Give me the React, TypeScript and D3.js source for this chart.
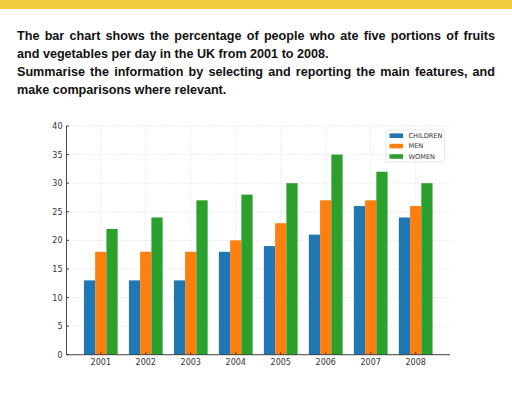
import { useRef, useEffect } from "react";
import * as d3 from "d3";

const years = ["2001", "2002", "2003", "2004", "2005", "2006", "2007", "2008"];
const children = [13, 13, 13, 18, 19, 21, 26, 24];
const men = [18, 18, 18, 20, 23, 27, 27, 26];
const women = [22, 24, 27, 28, 30, 35, 32, 30];
const seriesNames = ["CHILDREN", "MEN", "WOMEN"];
const seriesColors = ["#1f77b4", "#ff7f0e", "#2ca02c"];
const yTicks = [0, 5, 10, 15, 20, 25, 30, 35, 40];

const paragraphs = [
    "The bar chart shows the percentage of people who ate five portions of fruits and vegetables per day in the UK from 2001 to 2008.",
    "Summarise the information by selecting and reporting the main features, and make comparisons where relevant.",
];

const W = 512;
const H = 417;

export default function App() {
    const ref = useRef<SVGSVGElement>(null);

    useEffect(() => {
        const svg = d3.select(ref.current);
        svg.selectAll("*").remove();

        svg.append("rect").attr("width", W).attr("height", H).attr("fill", "#fff");
        svg.append("rect").attr("width", W).attr("height", 9).attr("fill", "#f2cb3c");

        // justified prompt text
        const textLeft = 17;
        const textRight = 495;
        const fontSize = 12.6;
        let lineY = 40;
        const tg = svg.append("g")
            .attr("font-family", "'Liberation Sans', Arial, sans-serif")
            .attr("font-weight", "bold")
            .attr("font-size", fontSize)
            .attr("fill", "#111");

        const measure = tg.append("text").attr("x", -1000).attr("y", -1000);
        const wordWidth = (w: string) => {
            measure.text(w);
            return (measure.node() as SVGTextElement).getComputedTextLength();
        };
        const spaceW = wordWidth("a b") - wordWidth("ab");

        paragraphs.forEach(p => {
            const words = p.split(" ");
            let lines: string[][] = [];
            let cur: string[] = [];
            let curW = 0;
            words.forEach(w => {
                const ww = wordWidth(w);
                const next = cur.length ? curW + spaceW + ww : ww;
                if (next > textRight - textLeft && cur.length) {
                    lines.push(cur);
                    cur = [w];
                    curW = ww;
                } else {
                    cur.push(w);
                    curW = next;
                }
            });
            if (cur.length) lines.push(cur);

            lines.forEach((line, li) => {
                const last = li === lines.length - 1;
                const widths = line.map(wordWidth);
                const total = d3.sum(widths);
                const gap = last || line.length < 2
                    ? spaceW
                    : (textRight - textLeft - total) / (line.length - 1);
                let x = textLeft;
                line.forEach((w, i) => {
                    tg.append("text").attr("x", x).attr("y", lineY).text(w);
                    x += widths[i] + gap;
                });
                lineY += 18;
            });
        });
        measure.remove();

        // chart
        const left = 66.5;
        const right = 450;
        const top = 126;
        const bottom = 354.7;

        const x = d3.scaleLinear().domain([-0.7625, years.length - 1 + 0.7625]).range([left, right]);
        const y = d3.scaleLinear().domain([0, 40]).range([bottom, top]);
        const barW = x(0.25) - x(0);

        const grid = svg.append("g")
            .attr("stroke", "#d9d9d9")
            .attr("stroke-width", 0.6)
            .attr("stroke-dasharray", "1.5,1.5");
        yTicks.forEach(t => {
            grid.append("line").attr("x1", left).attr("x2", right).attr("y1", y(t)).attr("y2", y(t));
        });
        years.forEach((_, i) => {
            grid.append("line").attr("x1", x(i)).attr("x2", x(i)).attr("y1", top).attr("y2", bottom);
        });

        const series = [children, men, women];
        series.forEach((vals, s) => {
            svg.append("g").selectAll("rect")
                .data(vals)
                .join("rect")
                .attr("x", (_, i) => x(i + (s - 1) * 0.25) - barW / 2)
                .attr("y", d => y(d))
                .attr("width", barW)
                .attr("height", d => y(0) - y(d))
                .attr("fill", seriesColors[s]);
        });

        const axes = svg.append("g").attr("stroke", "#333").attr("stroke-width", 0.9);
        axes.append("line").attr("x1", left).attr("x2", left).attr("y1", top).attr("y2", bottom);
        axes.append("line").attr("x1", left).attr("x2", right).attr("y1", bottom).attr("y2", bottom);
        yTicks.forEach(t => {
            axes.append("line").attr("x1", left).attr("x2", left + 2.5).attr("y1", y(t)).attr("y2", y(t));
        });
        years.forEach((_, i) => {
            axes.append("line").attr("x1", x(i)).attr("x2", x(i)).attr("y1", bottom).attr("y2", bottom - 2.5);
        });

        const labels = svg.append("g")
            .attr("font-family", "'DejaVu Sans', sans-serif")
            .attr("font-size", 8)
            .attr("fill", "#333");
        yTicks.forEach(t => {
            labels.append("text")
                .attr("x", left - 4)
                .attr("y", y(t) + 3)
                .attr("text-anchor", "end")
                .text(t);
        });
        years.forEach((yr, i) => {
            labels.append("text")
                .attr("x", x(i))
                .attr("y", bottom + 10.5)
                .attr("text-anchor", "middle")
                .text(yr);
        });

        // legend
        const lg = svg.append("g");
        lg.append("rect")
            .attr("x", 386).attr("y", 130).attr("width", 58.5).attr("height", 32)
            .attr("fill", "#fff").attr("fill-opacity", 0.85)
            .attr("stroke", "#ddd").attr("stroke-width", 0.7).attr("rx", 1.5);
        seriesNames.forEach((name, i) => {
            const ly = 135.7 + i * 10.4;
            lg.append("rect")
                .attr("x", 389.5).attr("y", ly - 2.3).attr("width", 13.5).attr("height", 4.6)
                .attr("fill", seriesColors[i]);
            lg.append("text")
                .attr("x", 408.5).attr("y", ly + 2.3)
                .attr("font-family", "'DejaVu Sans', sans-serif")
                .attr("font-size", 6.6)
                .attr("fill", "#333")
                .text(name);
        });
    }, []);

    return (
        <svg
            ref={ref}
            width={W}
            height={H}
            style={{ position: "absolute", left: 0, top: 0, display: "block" }}
        />
    );
}
